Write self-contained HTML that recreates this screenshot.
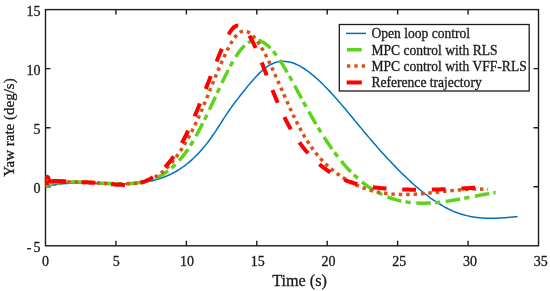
<!DOCTYPE html>
<html><head><meta charset="utf-8"><style>
html,body{margin:0;padding:0;background:#fff;width:550px;height:291px;overflow:hidden}
svg{display:block}
text{font-family:"Liberation Serif","Times New Roman",serif;fill:#1a1a1a;stroke:#1a1a1a;stroke-width:0.3px}
.t{font-size:14px}
.l{font-size:16.2px}
.g{font-size:13.55px}
</style></head><body>
<svg width="550" height="291" viewBox="0 0 550 291">
<rect width="550" height="291" fill="#fff"/>
<rect x="45.5" y="9.6" width="493.0" height="236.20000000000002" fill="none" stroke="#1a1a1a" stroke-width="1.4"/>
<path d="M115.93,245.8V240.8M115.93,9.6V14.6M186.36,245.8V240.8M186.36,9.6V14.6M256.79,245.8V240.8M256.79,9.6V14.6M327.21,245.8V240.8M327.21,9.6V14.6M397.64,245.8V240.8M397.64,9.6V14.6M468.07,245.8V240.8M468.07,9.6V14.6M45.5,186.75H50.5M538.5,186.75H533.5M45.5,127.70H50.5M538.5,127.70H533.5M45.5,68.65H50.5M538.5,68.65H533.5" stroke="#1a1a1a" stroke-width="1.4" fill="none"/>
<path d="M45.50,186.88 C45.83,186.79 46.83,186.53 47.50,186.37 C48.17,186.21 48.83,186.06 49.50,185.91 C50.17,185.76 50.83,185.62 51.50,185.49 C52.17,185.36 52.83,185.23 53.50,185.11 C54.17,184.99 54.83,184.88 55.50,184.77 C56.17,184.66 56.83,184.56 57.50,184.46 C58.17,184.36 58.83,184.28 59.50,184.19 C60.17,184.10 60.83,184.02 61.50,183.95 C62.17,183.88 62.83,183.80 63.50,183.74 C64.17,183.68 64.83,183.62 65.50,183.57 C66.17,183.52 66.83,183.47 67.50,183.42 C68.17,183.37 68.83,183.33 69.50,183.29 C70.17,183.25 70.83,183.22 71.50,183.19 C72.17,183.16 72.83,183.14 73.50,183.12 C74.17,183.10 74.83,183.07 75.50,183.06 C76.17,183.05 76.83,183.04 77.50,183.03 C78.17,183.02 78.83,183.01 79.50,183.01 C80.17,183.01 80.83,183.01 81.50,183.01 C82.17,183.01 82.83,183.02 83.50,183.03 C84.17,183.04 84.83,183.04 85.50,183.05 C86.17,183.06 86.83,183.08 87.50,183.10 C88.17,183.12 88.83,183.13 89.50,183.15 C90.17,183.17 90.83,183.18 91.50,183.20 C92.17,183.22 92.83,183.25 93.50,183.27 C94.17,183.29 94.83,183.31 95.50,183.34 C96.17,183.37 96.83,183.39 97.50,183.42 C98.17,183.44 98.83,183.47 99.50,183.49 C100.17,183.52 100.83,183.54 101.50,183.57 C102.17,183.60 102.83,183.62 103.50,183.65 C104.17,183.68 104.83,183.70 105.50,183.72 C106.17,183.74 106.83,183.77 107.50,183.79 C108.17,183.81 108.83,183.83 109.50,183.85 C110.17,183.87 110.83,183.89 111.50,183.91 C112.17,183.93 112.83,183.94 113.50,183.95 C114.17,183.96 114.83,183.98 115.50,183.99 C116.17,184.00 116.83,184.00 117.50,184.01 C118.17,184.01 118.83,184.02 119.50,184.02 C120.17,184.02 120.83,184.01 121.50,184.01 C122.17,184.00 122.83,184.00 123.50,183.99 C124.17,183.98 124.83,183.96 125.50,183.94 C126.17,183.92 126.83,183.91 127.50,183.88 C128.17,183.85 128.83,183.82 129.50,183.79 C130.17,183.76 130.83,183.72 131.50,183.68 C132.17,183.64 132.83,183.59 133.50,183.54 C134.17,183.49 134.83,183.44 135.50,183.38 C136.17,183.32 136.83,183.26 137.50,183.19 C138.17,183.12 138.83,183.05 139.50,182.97 C140.17,182.89 140.83,182.80 141.50,182.71 C142.17,182.62 142.83,182.52 143.50,182.42 C144.17,182.32 144.83,182.21 145.50,182.10 C146.17,181.99 146.83,181.87 147.50,181.74 C148.17,181.61 148.83,181.48 149.50,181.34 C150.17,181.20 150.83,181.05 151.50,180.90 C152.17,180.75 152.83,180.59 153.50,180.42 C154.17,180.25 154.83,180.07 155.50,179.89 C156.17,179.71 156.83,179.52 157.50,179.32 C158.17,179.12 158.83,178.91 159.50,178.70 C160.17,178.48 160.83,178.26 161.50,178.03 C162.17,177.80 162.83,177.56 163.50,177.31 C164.17,177.06 164.83,176.80 165.50,176.53 C166.17,176.26 166.83,175.97 167.50,175.68 C168.17,175.39 168.83,175.09 169.50,174.78 C170.17,174.47 170.83,174.15 171.50,173.82 C172.17,173.49 172.83,173.14 173.50,172.78 C174.17,172.42 174.83,172.06 175.50,171.68 C176.17,171.30 176.83,170.91 177.50,170.51 C178.17,170.11 178.83,169.69 179.50,169.26 C180.17,168.83 180.83,168.39 181.50,167.94 C182.17,167.49 182.83,167.01 183.50,166.53 C184.17,166.05 184.83,165.56 185.50,165.05 C186.17,164.54 186.83,164.02 187.50,163.48 C188.17,162.94 188.83,162.39 189.50,161.82 C190.17,161.25 190.83,160.68 191.50,160.08 C192.17,159.48 192.83,158.87 193.50,158.24 C194.17,157.61 194.83,156.97 195.50,156.31 C196.17,155.65 196.83,154.97 197.50,154.28 C198.17,153.59 198.83,152.88 199.50,152.16 C200.17,151.44 200.83,150.69 201.50,149.93 C202.17,149.17 202.83,148.39 203.50,147.59 C204.17,146.79 204.83,145.98 205.50,145.15 C206.17,144.32 206.83,143.47 207.50,142.60 C208.17,141.73 208.83,140.85 209.50,139.94 C210.17,139.03 210.83,138.10 211.50,137.16 C212.17,136.22 212.83,135.26 213.50,134.28 C214.17,133.30 214.83,132.31 215.50,131.30 C216.17,130.30 216.83,129.27 217.50,128.25 C218.17,127.23 218.83,126.19 219.50,125.16 C220.17,124.13 220.83,123.09 221.50,122.06 C222.17,121.03 222.83,119.99 223.50,118.96 C224.17,117.93 224.83,116.91 225.50,115.90 C226.17,114.89 226.83,113.89 227.50,112.90 C228.17,111.92 228.83,110.95 229.50,109.99 C230.17,109.03 230.83,108.09 231.50,107.16 C232.17,106.23 232.83,105.32 233.50,104.41 C234.17,103.50 234.83,102.61 235.50,101.72 C236.17,100.83 236.83,99.96 237.50,99.10 C238.17,98.23 238.83,97.38 239.50,96.53 C240.17,95.68 240.83,94.83 241.50,93.99 C242.17,93.15 242.83,92.32 243.50,91.49 C244.17,90.66 244.83,89.83 245.50,89.01 C246.17,88.19 246.83,87.37 247.50,86.56 C248.17,85.75 248.83,84.94 249.50,84.14 C250.17,83.34 250.83,82.56 251.50,81.78 C252.17,81.00 252.83,80.23 253.50,79.48 C254.17,78.73 254.83,77.99 255.50,77.27 C256.17,76.55 256.83,75.84 257.50,75.15 C258.17,74.46 258.83,73.78 259.50,73.13 C260.17,72.48 260.83,71.85 261.50,71.24 C262.17,70.63 262.83,70.05 263.50,69.49 C264.17,68.93 264.83,68.39 265.50,67.88 C266.17,67.37 266.83,66.89 267.50,66.44 C268.17,65.99 268.83,65.57 269.50,65.18 C270.17,64.79 270.83,64.43 271.50,64.10 C272.17,63.77 272.83,63.48 273.50,63.21 C274.17,62.94 274.83,62.71 275.50,62.50 C276.17,62.29 276.83,62.11 277.50,61.96 C278.17,61.81 278.83,61.68 279.50,61.58 C280.17,61.48 280.83,61.42 281.50,61.38 C282.17,61.34 282.83,61.31 283.50,61.32 C284.17,61.33 284.83,61.36 285.50,61.42 C286.17,61.48 286.83,61.56 287.50,61.67 C288.17,61.78 288.83,61.91 289.50,62.06 C290.17,62.21 290.83,62.38 291.50,62.58 C292.17,62.77 292.83,62.99 293.50,63.23 C294.17,63.47 294.83,63.73 295.50,64.01 C296.17,64.29 296.83,64.58 297.50,64.90 C298.17,65.22 298.83,65.55 299.50,65.91 C300.17,66.27 300.83,66.64 301.50,67.03 C302.17,67.42 302.83,67.83 303.50,68.25 C304.17,68.67 304.83,69.11 305.50,69.57 C306.17,70.02 306.83,70.50 307.50,70.98 C308.17,71.46 308.83,71.96 309.50,72.47 C310.17,72.98 310.83,73.51 311.50,74.05 C312.17,74.59 312.83,75.14 313.50,75.70 C314.17,76.26 314.83,76.85 315.50,77.43 C316.17,78.02 316.83,78.60 317.50,79.21 C318.17,79.82 318.83,80.44 319.50,81.07 C320.17,81.70 320.83,82.34 321.50,82.98 C322.17,83.62 322.83,84.28 323.50,84.94 C324.17,85.60 324.83,86.28 325.50,86.96 C326.17,87.64 326.83,88.33 327.50,89.03 C328.17,89.73 328.83,90.43 329.50,91.14 C330.17,91.85 330.83,92.57 331.50,93.30 C332.17,94.03 332.83,94.76 333.50,95.50 C334.17,96.24 334.83,96.98 335.50,97.73 C336.17,98.48 336.83,99.24 337.50,100.00 C338.17,100.76 338.83,101.52 339.50,102.29 C340.17,103.06 340.83,103.84 341.50,104.62 C342.17,105.40 342.83,106.19 343.50,106.97 C344.17,107.75 344.83,108.54 345.50,109.33 C346.17,110.12 346.83,110.92 347.50,111.72 C348.17,112.52 348.83,113.31 349.50,114.11 C350.17,114.91 350.83,115.72 351.50,116.52 C352.17,117.32 352.83,118.13 353.50,118.94 C354.17,119.75 354.83,120.55 355.50,121.36 C356.17,122.17 356.83,122.97 357.50,123.78 C358.17,124.59 358.83,125.39 359.50,126.20 C360.17,127.01 360.83,127.81 361.50,128.61 C362.17,129.41 362.83,130.21 363.50,131.01 C364.17,131.81 364.83,132.61 365.50,133.40 C366.17,134.19 366.83,134.99 367.50,135.78 C368.17,136.57 368.83,137.36 369.50,138.14 C370.17,138.92 370.83,139.70 371.50,140.48 C372.17,141.26 372.83,142.03 373.50,142.80 C374.17,143.57 374.83,144.34 375.50,145.10 C376.17,145.86 376.83,146.62 377.50,147.38 C378.17,148.14 378.83,148.89 379.50,149.64 C380.17,150.39 380.83,151.14 381.50,151.88 C382.17,152.62 382.83,153.36 383.50,154.09 C384.17,154.82 384.83,155.56 385.50,156.29 C386.17,157.02 386.83,157.74 387.50,158.46 C388.17,159.18 388.83,159.89 389.50,160.60 C390.17,161.31 390.83,162.02 391.50,162.72 C392.17,163.42 392.83,164.12 393.50,164.82 C394.17,165.51 394.83,166.20 395.50,166.89 C396.17,167.57 396.83,168.25 397.50,168.93 C398.17,169.61 398.83,170.28 399.50,170.94 C400.17,171.60 400.83,172.26 401.50,172.92 C402.17,173.58 402.83,174.23 403.50,174.88 C404.17,175.53 404.83,176.16 405.50,176.80 C406.17,177.44 406.83,178.07 407.50,178.70 C408.17,179.33 408.83,179.94 409.50,180.56 C410.17,181.18 410.83,181.78 411.50,182.39 C412.17,182.99 412.83,183.60 413.50,184.19 C414.17,184.78 414.83,185.37 415.50,185.95 C416.17,186.53 416.83,187.11 417.50,187.68 C418.17,188.25 418.83,188.81 419.50,189.37 C420.17,189.93 420.83,190.49 421.50,191.03 C422.17,191.57 422.83,192.11 423.50,192.64 C424.17,193.17 424.83,193.70 425.50,194.22 C426.17,194.74 426.83,195.25 427.50,195.75 C428.17,196.25 428.83,196.75 429.50,197.24 C430.17,197.73 430.83,198.22 431.50,198.69 C432.17,199.16 432.83,199.63 433.50,200.09 C434.17,200.55 434.83,201.00 435.50,201.44 C436.17,201.88 436.83,202.32 437.50,202.75 C438.17,203.18 438.83,203.59 439.50,204.00 C440.17,204.41 440.83,204.81 441.50,205.21 C442.17,205.61 442.83,205.99 443.50,206.37 C444.17,206.75 444.83,207.11 445.50,207.47 C446.17,207.83 446.83,208.17 447.50,208.51 C448.17,208.85 448.83,209.19 449.50,209.51 C450.17,209.83 450.83,210.14 451.50,210.44 C452.17,210.74 452.83,211.04 453.50,211.32 C454.17,211.60 454.83,211.88 455.50,212.14 C456.17,212.40 456.83,212.66 457.50,212.90 C458.17,213.14 458.83,213.38 459.50,213.60 C460.17,213.82 460.83,214.04 461.50,214.24 C462.17,214.44 462.83,214.63 463.50,214.82 C464.17,215.01 464.83,215.19 465.50,215.36 C466.17,215.53 466.83,215.69 467.50,215.84 C468.17,215.99 468.83,216.14 469.50,216.27 C470.17,216.41 470.83,216.53 471.50,216.65 C472.17,216.77 472.83,216.89 473.50,216.99 C474.17,217.09 474.83,217.19 475.50,217.28 C476.17,217.37 476.83,217.45 477.50,217.53 C478.17,217.61 478.83,217.68 479.50,217.74 C480.17,217.80 480.83,217.86 481.50,217.91 C482.17,217.96 482.83,218.01 483.50,218.05 C484.17,218.09 484.83,218.12 485.50,218.15 C486.17,218.18 486.83,218.20 487.50,218.22 C488.17,218.24 488.83,218.24 489.50,218.25 C490.17,218.26 490.83,218.26 491.50,218.26 C492.17,218.26 492.83,218.25 493.50,218.24 C494.17,218.23 494.83,218.21 495.50,218.19 C496.17,218.17 496.83,218.16 497.50,218.13 C498.17,218.10 498.83,218.06 499.50,218.03 C500.17,218.00 500.83,217.96 501.50,217.92 C502.17,217.88 502.83,217.84 503.50,217.80 C504.17,217.76 504.83,217.70 505.50,217.65 C506.17,217.60 506.83,217.55 507.50,217.49 C508.17,217.44 508.83,217.38 509.50,217.32 C510.17,217.26 510.83,217.20 511.50,217.14 C512.17,217.08 512.83,217.02 513.50,216.96 C514.17,216.90 514.83,216.83 515.50,216.76 C516.17,216.69 517.15,216.59 517.50,216.56 C517.85,216.53 517.58,216.55 517.60,216.55" fill="none" stroke="#0072bd" stroke-width="1.5" stroke-linejoin="round"/>
<path d="M45.50,185.72 C45.83,185.63 46.83,185.36 47.50,185.19 C48.17,185.02 48.83,184.85 49.50,184.70 C50.17,184.54 50.83,184.40 51.50,184.26 C52.17,184.12 52.83,183.99 53.50,183.87 C54.17,183.75 54.83,183.63 55.50,183.52 C56.17,183.41 56.83,183.31 57.50,183.21 C58.17,183.12 58.83,183.03 59.50,182.95 C60.17,182.87 60.83,182.79 61.50,182.72 C62.17,182.65 62.83,182.59 63.50,182.53 C64.17,182.47 64.83,182.42 65.50,182.37 C66.17,182.32 66.83,182.28 67.50,182.24 C68.17,182.20 68.83,182.18 69.50,182.15 C70.17,182.12 70.83,182.10 71.50,182.08 C72.17,182.06 72.83,182.05 73.50,182.04 C74.17,182.03 74.83,182.03 75.50,182.03 C76.17,182.03 76.83,182.03 77.50,182.03 C78.17,182.03 78.83,182.05 79.50,182.06 C80.17,182.07 80.83,182.09 81.50,182.11 C82.17,182.13 82.83,182.15 83.50,182.17 C84.17,182.19 84.83,182.21 85.50,182.24 C86.17,182.27 86.83,182.30 87.50,182.33 C88.17,182.36 88.83,182.40 89.50,182.43 C90.17,182.47 90.83,182.50 91.50,182.54 C92.17,182.58 92.83,182.61 93.50,182.65 C94.17,182.69 94.83,182.73 95.50,182.77 C96.17,182.81 96.83,182.85 97.50,182.89 C98.17,182.93 98.83,182.98 99.50,183.02 C100.17,183.06 100.83,183.10 101.50,183.14 C102.17,183.18 102.83,183.21 103.50,183.25 C104.17,183.29 104.83,183.32 105.50,183.36 C106.17,183.40 106.83,183.44 107.50,183.47 C108.17,183.50 108.83,183.54 109.50,183.57 C110.17,183.60 110.83,183.62 111.50,183.65 C112.17,183.68 112.83,183.70 113.50,183.72 C114.17,183.74 114.83,183.76 115.50,183.78 C116.17,183.80 116.83,183.80 117.50,183.81 C118.17,183.82 118.83,183.83 119.50,183.83 C120.17,183.83 120.83,183.83 121.50,183.83 C122.17,183.83 122.83,183.82 123.50,183.81 C124.17,183.80 124.83,183.78 125.50,183.76 C126.17,183.74 126.83,183.71 127.50,183.68 C128.17,183.65 128.83,183.61 129.50,183.57 C130.17,183.53 130.83,183.49 131.50,183.44 C132.17,183.39 132.83,183.33 133.50,183.27 C134.17,183.21 134.83,183.13 135.50,183.06 C136.17,182.99 136.83,182.91 137.50,182.82 C138.17,182.73 138.83,182.63 139.50,182.53 C140.17,182.43 140.83,182.32 141.50,182.20 C142.17,182.08 142.83,181.96 143.50,181.82 C144.17,181.68 144.83,181.53 145.50,181.37 C146.17,181.21 146.83,181.05 147.50,180.87 C148.17,180.69 148.83,180.49 149.50,180.29 C150.17,180.09 150.83,179.88 151.50,179.65 C152.17,179.42 152.83,179.17 153.50,178.92 C154.17,178.66 154.83,178.40 155.50,178.12 C156.17,177.84 156.83,177.53 157.50,177.22 C158.17,176.91 158.83,176.59 159.50,176.24 C160.17,175.90 160.83,175.53 161.50,175.15 C162.17,174.77 162.83,174.37 163.50,173.96 C164.17,173.55 164.83,173.12 165.50,172.67 C166.17,172.22 166.83,171.75 167.50,171.26 C168.17,170.77 168.83,170.27 169.50,169.74 C170.17,169.21 170.83,168.66 171.50,168.09 C172.17,167.52 172.83,166.93 173.50,166.32 C174.17,165.71 174.83,165.08 175.50,164.42 C176.17,163.76 176.83,163.07 177.50,162.37 C178.17,161.67 178.83,160.94 179.50,160.19 C180.17,159.44 180.83,158.65 181.50,157.85 C182.17,157.05 182.83,156.22 183.50,155.37 C184.17,154.52 184.83,153.64 185.50,152.73 C186.17,151.82 186.83,150.88 187.50,149.92 C188.17,148.96 188.83,147.97 189.50,146.95 C190.17,145.93 190.83,144.88 191.50,143.80 C192.17,142.72 192.83,141.62 193.50,140.49 C194.17,139.36 194.83,138.19 195.50,137.01 C196.17,135.83 196.83,134.63 197.50,133.40 C198.17,132.17 198.83,130.92 199.50,129.65 C200.17,128.38 200.83,127.09 201.50,125.78 C202.17,124.47 202.83,123.15 203.50,121.81 C204.17,120.47 204.83,119.11 205.50,117.75 C206.17,116.39 206.83,115.01 207.50,113.62 C208.17,112.23 208.83,110.84 209.50,109.43 C210.17,108.03 210.83,106.61 211.50,105.19 C212.17,103.77 212.83,102.34 213.50,100.91 C214.17,99.48 214.83,98.05 215.50,96.62 C216.17,95.19 216.83,93.75 217.50,92.32 C218.17,90.89 218.83,89.45 219.50,88.03 C220.17,86.61 220.83,85.19 221.50,83.78 C222.17,82.37 222.83,80.97 223.50,79.58 C224.17,78.19 224.83,76.82 225.50,75.47 C226.17,74.12 226.83,72.78 227.50,71.47 C228.17,70.16 228.83,68.88 229.50,67.62 C230.17,66.36 230.83,65.12 231.50,63.93 C232.17,62.73 232.83,61.57 233.50,60.45 C234.17,59.33 234.83,58.24 235.50,57.19 C236.17,56.14 236.83,55.13 237.50,54.17 C238.17,53.21 238.83,52.29 239.50,51.42 C240.17,50.55 240.83,49.72 241.50,48.94 C242.17,48.16 242.83,47.42 243.50,46.74 C244.17,46.06 244.83,45.42 245.50,44.84 C246.17,44.26 246.83,43.73 247.50,43.26 C248.17,42.78 248.83,42.36 249.50,41.99 C250.17,41.62 250.83,41.32 251.50,41.07 C252.17,40.82 252.83,40.62 253.50,40.48 C254.17,40.34 254.83,40.27 255.50,40.25 C256.17,40.23 256.83,40.26 257.50,40.34 C258.17,40.43 258.83,40.57 259.50,40.76 C260.17,40.95 260.83,41.20 261.50,41.49 C262.17,41.78 262.83,42.12 263.50,42.51 C264.17,42.90 264.83,43.34 265.50,43.83 C266.17,44.31 266.83,44.85 267.50,45.42 C268.17,45.99 268.83,46.61 269.50,47.27 C270.17,47.93 270.83,48.63 271.50,49.37 C272.17,50.11 272.83,50.88 273.50,51.69 C274.17,52.50 274.83,53.34 275.50,54.22 C276.17,55.10 276.83,56.01 277.50,56.95 C278.17,57.89 278.83,58.86 279.50,59.85 C280.17,60.84 280.83,61.86 281.50,62.90 C282.17,63.94 282.83,65.01 283.50,66.10 C284.17,67.19 284.83,68.30 285.50,69.42 C286.17,70.55 286.83,71.69 287.50,72.85 C288.17,74.01 288.83,75.19 289.50,76.37 C290.17,77.56 290.83,78.75 291.50,79.96 C292.17,81.16 292.83,82.38 293.50,83.60 C294.17,84.82 294.83,86.06 295.50,87.29 C296.17,88.52 296.83,89.75 297.50,90.99 C298.17,92.22 298.83,93.47 299.50,94.70 C300.17,95.94 300.83,97.17 301.50,98.40 C302.17,99.63 302.83,100.85 303.50,102.07 C304.17,103.29 304.83,104.50 305.50,105.70 C306.17,106.91 306.83,108.11 307.50,109.30 C308.17,110.49 308.83,111.67 309.50,112.85 C310.17,114.03 310.83,115.20 311.50,116.36 C312.17,117.52 312.83,118.68 313.50,119.82 C314.17,120.96 314.83,122.09 315.50,123.22 C316.17,124.35 316.83,125.47 317.50,126.58 C318.17,127.69 318.83,128.78 319.50,129.87 C320.17,130.96 320.83,132.04 321.50,133.11 C322.17,134.18 322.83,135.24 323.50,136.28 C324.17,137.32 324.83,138.36 325.50,139.38 C326.17,140.40 326.83,141.42 327.50,142.42 C328.17,143.42 328.83,144.41 329.50,145.38 C330.17,146.35 330.83,147.31 331.50,148.26 C332.17,149.21 332.83,150.15 333.50,151.07 C334.17,151.99 334.83,152.90 335.50,153.79 C336.17,154.68 336.83,155.56 337.50,156.43 C338.17,157.30 338.83,158.14 339.50,158.98 C340.17,159.81 340.83,160.63 341.50,161.44 C342.17,162.25 342.83,163.04 343.50,163.82 C344.17,164.60 344.83,165.36 345.50,166.11 C346.17,166.86 346.83,167.59 347.50,168.31 C348.17,169.03 348.83,169.75 349.50,170.44 C350.17,171.13 350.83,171.81 351.50,172.48 C352.17,173.15 352.83,173.80 353.50,174.44 C354.17,175.08 354.83,175.72 355.50,176.33 C356.17,176.95 356.83,177.54 357.50,178.13 C358.17,178.72 358.83,179.31 359.50,179.87 C360.17,180.44 360.83,180.98 361.50,181.52 C362.17,182.06 362.83,182.59 363.50,183.11 C364.17,183.63 364.83,184.13 365.50,184.62 C366.17,185.11 366.83,185.59 367.50,186.06 C368.17,186.53 368.83,186.99 369.50,187.43 C370.17,187.88 370.83,188.31 371.50,188.73 C372.17,189.15 372.83,189.57 373.50,189.97 C374.17,190.37 374.83,190.77 375.50,191.15 C376.17,191.53 376.83,191.89 377.50,192.25 C378.17,192.61 378.83,192.96 379.50,193.30 C380.17,193.64 380.83,193.96 381.50,194.28 C382.17,194.60 382.83,194.91 383.50,195.21 C384.17,195.51 384.83,195.80 385.50,196.08 C386.17,196.36 386.83,196.63 387.50,196.89 C388.17,197.15 388.83,197.40 389.50,197.64 C390.17,197.88 390.83,198.12 391.50,198.34 C392.17,198.56 392.83,198.77 393.50,198.98 C394.17,199.19 394.83,199.39 395.50,199.58 C396.17,199.77 396.83,199.95 397.50,200.12 C398.17,200.29 398.83,200.46 399.50,200.62 C400.17,200.78 400.83,200.92 401.50,201.06 C402.17,201.20 402.83,201.33 403.50,201.46 C404.17,201.59 404.83,201.71 405.50,201.82 C406.17,201.93 406.83,202.03 407.50,202.13 C408.17,202.23 408.83,202.32 409.50,202.40 C410.17,202.48 410.83,202.55 411.50,202.62 C412.17,202.69 412.83,202.75 413.50,202.81 C414.17,202.87 414.83,202.92 415.50,202.96 C416.17,203.00 416.83,203.04 417.50,203.07 C418.17,203.10 418.83,203.13 419.50,203.15 C420.17,203.17 420.83,203.18 421.50,203.19 C422.17,203.20 422.83,203.19 423.50,203.19 C424.17,203.19 424.83,203.18 425.50,203.17 C426.17,203.16 426.83,203.14 427.50,203.12 C428.17,203.10 428.83,203.06 429.50,203.03 C430.17,203.00 430.83,202.96 431.50,202.92 C432.17,202.88 432.83,202.83 433.50,202.78 C434.17,202.73 434.83,202.68 435.50,202.62 C436.17,202.56 436.83,202.50 437.50,202.43 C438.17,202.36 438.83,202.29 439.50,202.22 C440.17,202.15 440.83,202.07 441.50,201.99 C442.17,201.91 442.83,201.83 443.50,201.74 C444.17,201.65 444.83,201.56 445.50,201.47 C446.17,201.38 446.83,201.28 447.50,201.18 C448.17,201.08 448.83,200.98 449.50,200.88 C450.17,200.78 450.83,200.67 451.50,200.56 C452.17,200.45 452.83,200.34 453.50,200.23 C454.17,200.12 454.83,200.00 455.50,199.89 C456.17,199.77 456.83,199.66 457.50,199.54 C458.17,199.42 458.83,199.29 459.50,199.17 C460.17,199.05 460.83,198.92 461.50,198.80 C462.17,198.68 462.83,198.56 463.50,198.43 C464.17,198.30 464.83,198.17 465.50,198.04 C466.17,197.91 466.83,197.79 467.50,197.66 C468.17,197.53 468.83,197.40 469.50,197.27 C470.17,197.14 470.83,197.01 471.50,196.88 C472.17,196.75 472.83,196.62 473.50,196.49 C474.17,196.36 474.83,196.23 475.50,196.10 C476.17,195.97 476.83,195.85 477.50,195.72 C478.17,195.59 478.83,195.46 479.50,195.33 C480.17,195.20 480.83,195.08 481.50,194.96 C482.17,194.84 482.83,194.71 483.50,194.59 C484.17,194.47 484.83,194.35 485.50,194.23 C486.17,194.11 486.83,194.00 487.50,193.88 C488.17,193.76 488.83,193.64 489.50,193.53 C490.17,193.42 490.83,193.31 491.50,193.20 C492.17,193.09 492.83,192.99 493.50,192.89 C494.17,192.79 495.15,192.64 495.50,192.59 C495.85,192.54 495.58,192.57 495.60,192.57" fill="none" stroke="#5fd21c" stroke-width="3.5" stroke-dasharray="14.5 4.2 5.4 5.5" stroke-dashoffset="7.21"/>
<path d="M47.00,185.00 C47.03,184.08 47.03,180.17 47.20,179.50 C47.37,178.83 47.53,180.54 48.00,181.00 C48.47,181.46 49.33,182.09 50.00,182.28 C50.67,182.47 51.33,182.20 52.00,182.17 C52.67,182.14 53.33,182.11 54.00,182.08 C54.67,182.05 55.33,182.03 56.00,182.01 C56.67,181.99 57.33,181.98 58.00,181.96 C58.67,181.94 59.33,181.93 60.00,181.92 C60.67,181.91 61.33,181.91 62.00,181.90 C62.67,181.90 63.33,181.89 64.00,181.89 C64.67,181.89 65.33,181.90 66.00,181.90 C66.67,181.91 67.33,181.91 68.00,181.92 C68.67,181.93 69.33,181.94 70.00,181.95 C70.67,181.96 71.33,181.97 72.00,181.99 C72.67,182.01 73.33,182.03 74.00,182.05 C74.67,182.07 75.33,182.09 76.00,182.11 C76.67,182.13 77.33,182.16 78.00,182.18 C78.67,182.20 79.33,182.22 80.00,182.25 C80.67,182.28 81.33,182.31 82.00,182.34 C82.67,182.37 83.33,182.39 84.00,182.42 C84.67,182.45 85.33,182.49 86.00,182.52 C86.67,182.55 87.33,182.58 88.00,182.61 C88.67,182.64 89.33,182.68 90.00,182.71 C90.67,182.74 91.33,182.78 92.00,182.81 C92.67,182.84 93.33,182.88 94.00,182.91 C94.67,182.94 95.33,182.98 96.00,183.01 C96.67,183.04 97.33,183.07 98.00,183.10 C98.67,183.13 99.33,183.17 100.00,183.20 C100.67,183.23 101.33,183.26 102.00,183.29 C102.67,183.32 103.33,183.35 104.00,183.38 C104.67,183.41 105.33,183.44 106.00,183.46 C106.67,183.49 107.33,183.51 108.00,183.53 C108.67,183.55 109.33,183.58 110.00,183.60 C110.67,183.62 111.33,183.64 112.00,183.66 C112.67,183.68 113.33,183.69 114.00,183.71 C114.67,183.73 115.33,183.74 116.00,183.75 C116.67,183.76 117.33,183.77 118.00,183.78 C118.67,183.79 119.33,183.80 120.00,183.80 C120.67,183.80 121.33,183.80 122.00,183.80 C122.67,183.80 123.33,183.79 124.00,183.79 C124.67,183.78 125.33,183.78 126.00,183.77 C126.67,183.76 127.33,183.74 128.00,183.72 C128.67,183.70 129.33,183.68 130.00,183.65 C130.67,183.62 131.33,183.58 132.00,183.54 C132.67,183.50 133.33,183.45 134.00,183.39 C134.67,183.33 135.33,183.27 136.00,183.19 C136.67,183.11 137.33,183.03 138.00,182.93 C138.67,182.83 139.33,182.72 140.00,182.60 C140.67,182.48 141.33,182.35 142.00,182.20 C142.67,182.05 143.33,181.89 144.00,181.71 C144.67,181.53 145.33,181.35 146.00,181.14 C146.67,180.93 147.33,180.70 148.00,180.46 C148.67,180.22 149.33,179.96 150.00,179.68 C150.67,179.40 151.33,179.10 152.00,178.78 C152.67,178.46 153.33,178.12 154.00,177.76 C154.67,177.40 155.33,177.02 156.00,176.61 C156.67,176.20 157.33,175.77 158.00,175.32 C158.67,174.87 159.33,174.39 160.00,173.89 C160.67,173.39 161.33,172.86 162.00,172.31 C162.67,171.76 163.33,171.19 164.00,170.60 C164.67,170.00 165.33,169.39 166.00,168.74 C166.67,168.09 167.33,167.42 168.00,166.73 C168.67,166.04 169.33,165.32 170.00,164.58 C170.67,163.84 171.33,163.07 172.00,162.28 C172.67,161.49 173.33,160.67 174.00,159.83 C174.67,158.99 175.33,158.12 176.00,157.23 C176.67,156.34 177.33,155.42 178.00,154.48 C178.67,153.54 179.33,152.57 180.00,151.58 C180.67,150.59 181.33,149.57 182.00,148.53 C182.67,147.49 183.33,146.42 184.00,145.33 C184.67,144.24 185.33,143.12 186.00,141.97 C186.67,140.82 187.33,139.65 188.00,138.45 C188.67,137.25 189.33,136.03 190.00,134.78 C190.67,133.53 191.33,132.25 192.00,130.95 C192.67,129.65 193.33,128.32 194.00,126.96 C194.67,125.60 195.33,124.22 196.00,122.81 C196.67,121.40 197.33,119.96 198.00,118.50 C198.67,117.04 199.33,115.54 200.00,114.03 C200.67,112.52 201.33,110.98 202.00,109.42 C202.67,107.86 203.33,106.28 204.00,104.69 C204.67,103.10 205.33,101.49 206.00,99.87 C206.67,98.25 207.33,96.62 208.00,94.99 C208.67,93.36 209.33,91.72 210.00,90.08 C210.67,88.44 211.33,86.79 212.00,85.15 C212.67,83.51 213.33,81.88 214.00,80.25 C214.67,78.62 215.33,77.00 216.00,75.39 C216.67,73.78 217.33,72.18 218.00,70.60 C218.67,69.02 219.33,67.45 220.00,65.91 C220.67,64.37 221.33,62.84 222.00,61.35 C222.67,59.86 223.33,58.38 224.00,56.94 C224.67,55.50 225.33,54.08 226.00,52.71 C226.67,51.34 227.33,50.00 228.00,48.71 C228.67,47.42 229.33,46.17 230.00,44.98 C230.67,43.79 231.33,42.66 232.00,41.59 C232.67,40.52 233.33,39.51 234.00,38.58 C234.67,37.65 235.33,36.78 236.00,36.00 C236.67,35.22 237.33,34.53 238.00,33.92 C238.67,33.31 239.33,32.79 240.00,32.37 C240.67,31.95 241.33,31.64 242.00,31.42 C242.67,31.20 243.33,31.09 244.00,31.07 C244.67,31.05 245.33,31.13 246.00,31.29 C246.67,31.45 247.33,31.70 248.00,32.03 C248.67,32.36 249.33,32.77 250.00,33.26 C250.67,33.74 251.33,34.31 252.00,34.94 C252.67,35.56 253.33,36.26 254.00,37.01 C254.67,37.76 255.33,38.59 256.00,39.45 C256.67,40.32 257.33,41.23 258.00,42.20 C258.67,43.17 259.33,44.19 260.00,45.24 C260.67,46.29 261.33,47.39 262.00,48.52 C262.67,49.65 263.33,50.83 264.00,52.04 C264.67,53.25 265.33,54.49 266.00,55.76 C266.67,57.03 267.33,58.34 268.00,59.67 C268.67,61.00 269.33,62.36 270.00,63.74 C270.67,65.12 271.33,66.52 272.00,67.94 C272.67,69.36 273.33,70.81 274.00,72.26 C274.67,73.72 275.33,75.19 276.00,76.67 C276.67,78.15 277.33,79.65 278.00,81.15 C278.67,82.65 279.33,84.17 280.00,85.68 C280.67,87.19 281.33,88.70 282.00,90.22 C282.67,91.73 283.33,93.26 284.00,94.77 C284.67,96.28 285.33,97.79 286.00,99.29 C286.67,100.79 287.33,102.29 288.00,103.77 C288.67,105.25 289.33,106.73 290.00,108.18 C290.67,109.64 291.33,111.08 292.00,112.50 C292.67,113.92 293.33,115.32 294.00,116.70 C294.67,118.08 295.33,119.43 296.00,120.76 C296.67,122.09 297.33,123.40 298.00,124.68 C298.67,125.96 299.33,127.22 300.00,128.45 C300.67,129.68 301.33,130.90 302.00,132.08 C302.67,133.26 303.33,134.42 304.00,135.55 C304.67,136.68 305.33,137.79 306.00,138.88 C306.67,139.97 307.33,141.03 308.00,142.06 C308.67,143.09 309.33,144.10 310.00,145.08 C310.67,146.06 311.33,147.02 312.00,147.95 C312.67,148.88 313.33,149.78 314.00,150.66 C314.67,151.54 315.33,152.39 316.00,153.23 C316.67,154.06 317.33,154.88 318.00,155.67 C318.67,156.46 319.33,157.22 320.00,157.97 C320.67,158.72 321.33,159.44 322.00,160.15 C322.67,160.86 323.33,161.55 324.00,162.22 C324.67,162.89 325.33,163.54 326.00,164.18 C326.67,164.82 327.33,165.44 328.00,166.05 C328.67,166.66 329.33,167.25 330.00,167.83 C330.67,168.41 331.33,168.98 332.00,169.54 C332.67,170.10 333.33,170.64 334.00,171.17 C334.67,171.70 335.33,172.22 336.00,172.73 C336.67,173.24 337.33,173.74 338.00,174.23 C338.67,174.72 339.33,175.19 340.00,175.66 C340.67,176.13 341.33,176.59 342.00,177.03 C342.67,177.47 343.33,177.91 344.00,178.33 C344.67,178.76 345.33,179.18 346.00,179.58 C346.67,179.99 347.33,180.38 348.00,180.76 C348.67,181.14 349.33,181.51 350.00,181.88 C350.67,182.25 351.33,182.60 352.00,182.95 C352.67,183.30 353.33,183.63 354.00,183.96 C354.67,184.29 355.33,184.60 356.00,184.91 C356.67,185.22 357.33,185.52 358.00,185.81 C358.67,186.10 359.33,186.39 360.00,186.66 C360.67,186.93 361.33,187.19 362.00,187.45 C362.67,187.71 363.33,187.96 364.00,188.20 C364.67,188.44 365.33,188.67 366.00,188.89 C366.67,189.11 367.33,189.33 368.00,189.54 C368.67,189.75 369.33,189.96 370.00,190.15 C370.67,190.34 371.33,190.52 372.00,190.70 C372.67,190.88 373.33,191.06 374.00,191.22 C374.67,191.38 375.33,191.54 376.00,191.69 C376.67,191.84 377.33,191.98 378.00,192.12 C378.67,192.26 379.33,192.39 380.00,192.51 C380.67,192.63 381.33,192.75 382.00,192.86 C382.67,192.97 383.33,193.07 384.00,193.17 C384.67,193.27 385.33,193.36 386.00,193.45 C386.67,193.54 387.33,193.62 388.00,193.69 C388.67,193.76 389.33,193.84 390.00,193.90 C390.67,193.96 391.33,194.02 392.00,194.07 C392.67,194.12 393.33,194.18 394.00,194.22 C394.67,194.26 395.33,194.31 396.00,194.34 C396.67,194.37 397.33,194.40 398.00,194.42 C398.67,194.44 399.33,194.46 400.00,194.48 C400.67,194.50 401.33,194.50 402.00,194.51 C402.67,194.52 403.33,194.52 404.00,194.52 C404.67,194.52 405.33,194.52 406.00,194.51 C406.67,194.50 407.33,194.49 408.00,194.47 C408.67,194.45 409.33,194.43 410.00,194.41 C410.67,194.39 411.33,194.37 412.00,194.34 C412.67,194.31 413.33,194.28 414.00,194.24 C414.67,194.21 415.33,194.17 416.00,194.13 C416.67,194.09 417.33,194.05 418.00,194.00 C418.67,193.95 419.33,193.90 420.00,193.85 C420.67,193.80 421.33,193.75 422.00,193.70 C422.67,193.65 423.33,193.59 424.00,193.53 C424.67,193.47 425.33,193.41 426.00,193.35 C426.67,193.29 427.33,193.22 428.00,193.16 C428.67,193.09 429.33,193.03 430.00,192.96 C430.67,192.89 431.33,192.83 432.00,192.76 C432.67,192.69 433.33,192.62 434.00,192.55 C434.67,192.48 435.33,192.40 436.00,192.33 C436.67,192.26 437.33,192.19 438.00,192.12 C438.67,192.05 439.33,191.97 440.00,191.90 C440.67,191.83 441.33,191.75 442.00,191.68 C442.67,191.61 443.33,191.53 444.00,191.46 C444.67,191.39 445.33,191.31 446.00,191.24 C446.67,191.17 447.33,191.10 448.00,191.03 C448.67,190.96 449.33,190.89 450.00,190.82 C450.67,190.75 451.33,190.69 452.00,190.62 C452.67,190.55 453.33,190.48 454.00,190.42 C454.67,190.35 455.33,190.29 456.00,190.23 C456.67,190.17 457.33,190.11 458.00,190.05 C458.67,189.99 459.33,189.94 460.00,189.89 C460.67,189.84 461.33,189.78 462.00,189.73 C462.67,189.68 463.33,189.63 464.00,189.59 C464.67,189.55 465.33,189.50 466.00,189.46 C466.67,189.42 467.33,189.38 468.00,189.35 C468.67,189.32 469.33,189.29 470.00,189.26 C470.67,189.23 471.33,189.20 472.00,189.18 C472.67,189.16 473.33,189.13 474.00,189.12 C474.67,189.11 475.33,189.10 476.00,189.09 C476.67,189.08 477.33,189.08 478.00,189.08 C478.67,189.08 479.33,189.08 480.00,189.09 C480.67,189.10 481.33,189.11 482.00,189.13 C482.67,189.15 483.33,189.16 484.00,189.19 C484.67,189.22 485.33,189.25 486.00,189.28 C486.67,189.31 487.65,189.38 488.00,189.40 C488.35,189.42 488.08,189.40 488.10,189.40" fill="none" stroke="#d95319" stroke-width="3.5" stroke-dasharray="3.5 3.9" stroke-dashoffset="2.92"/>
<path d="M46.90,185.30 C46.90,184.02 46.68,178.90 46.90,177.60 C47.12,176.30 47.85,177.02 48.20,177.50 C48.55,177.98 48.53,179.94 49.00,180.50 C49.47,181.06 50.33,180.75 51.00,180.83 C51.67,180.91 52.33,180.93 53.00,180.98 C53.67,181.03 54.33,181.07 55.00,181.12 C55.67,181.17 56.33,181.21 57.00,181.25 C57.67,181.29 58.33,181.33 59.00,181.36 C59.67,181.40 60.33,181.43 61.00,181.46 C61.67,181.49 62.33,181.52 63.00,181.55 C63.67,181.58 64.33,181.60 65.00,181.63 C65.67,181.66 66.33,181.68 67.00,181.70 C67.67,181.72 68.33,181.75 69.00,181.77 C69.67,181.79 70.33,181.81 71.00,181.83 C71.67,181.85 72.33,181.87 73.00,181.89 C73.67,181.91 74.33,181.93 75.00,181.95 C75.67,181.97 76.33,181.98 77.00,182.00 C77.67,182.02 78.33,182.04 79.00,182.06 C79.67,182.08 80.33,182.10 81.00,182.12 C81.67,182.14 82.33,182.17 83.00,182.19 C83.67,182.21 84.33,182.23 85.00,182.26 C85.67,182.28 86.33,182.31 87.00,182.34 C87.67,182.37 88.33,182.39 89.00,182.42 C89.67,182.45 90.33,182.49 91.00,182.52 C91.67,182.56 92.33,182.59 93.00,182.63 C93.67,182.67 94.33,182.71 95.00,182.75 C95.67,182.79 96.33,182.83 97.00,182.88 C97.67,182.93 98.33,182.98 99.00,183.03 C99.67,183.08 100.33,183.14 101.00,183.20 C101.67,183.26 102.33,183.33 103.00,183.39 C103.67,183.45 104.33,183.52 105.00,183.58 C105.67,183.65 106.33,183.71 107.00,183.78 C107.67,183.85 108.33,183.91 109.00,183.98 C109.67,184.04 110.33,184.11 111.00,184.17 C111.67,184.23 112.33,184.29 113.00,184.35 C113.67,184.41 114.33,184.47 115.00,184.52 C115.67,184.57 116.33,184.62 117.00,184.66 C117.67,184.70 118.33,184.75 119.00,184.78 C119.67,184.81 120.33,184.84 121.00,184.86 C121.67,184.88 122.33,184.89 123.00,184.90 C123.67,184.91 124.33,184.91 125.00,184.90 C125.67,184.89 126.33,184.88 127.00,184.85 C127.67,184.82 128.33,184.78 129.00,184.74 C129.67,184.70 130.33,184.65 131.00,184.58 C131.67,184.52 132.33,184.44 133.00,184.35 C133.67,184.26 134.33,184.16 135.00,184.05 C135.67,183.94 136.33,183.81 137.00,183.67 C137.67,183.53 138.33,183.38 139.00,183.21 C139.67,183.04 140.33,182.86 141.00,182.66 C141.67,182.46 142.33,182.25 143.00,182.02 C143.67,181.79 144.33,181.54 145.00,181.28 C145.67,181.02 146.33,180.74 147.00,180.44 C147.67,180.14 148.33,179.83 149.00,179.49 C149.67,179.15 150.33,178.79 151.00,178.42 C151.67,178.04 152.33,177.66 153.00,177.24 C153.67,176.82 154.33,176.38 155.00,175.92 C155.67,175.46 156.33,174.97 157.00,174.47 C157.67,173.97 158.33,173.44 159.00,172.89 C159.67,172.34 160.33,171.75 161.00,171.15 C161.67,170.55 162.33,169.93 163.00,169.27 C163.67,168.62 164.33,167.93 165.00,167.22 C165.67,166.51 166.33,165.78 167.00,165.02 C167.67,164.26 168.33,163.46 169.00,162.64 C169.67,161.82 170.33,160.97 171.00,160.09 C171.67,159.21 172.33,158.29 173.00,157.35 C173.67,156.41 174.33,155.44 175.00,154.43 C175.67,153.42 176.33,152.38 177.00,151.31 C177.67,150.24 178.33,149.14 179.00,148.01 C179.67,146.88 180.33,145.71 181.00,144.52 C181.67,143.33 182.33,142.11 183.00,140.86 C183.67,139.61 184.33,138.33 185.00,137.02 C185.67,135.71 186.33,134.37 187.00,133.01 C187.67,131.65 188.33,130.26 189.00,128.84 C189.67,127.42 190.33,125.98 191.00,124.51 C191.67,123.04 192.33,121.55 193.00,120.03 C193.67,118.51 194.33,116.97 195.00,115.41 C195.67,113.85 196.33,112.27 197.00,110.67 C197.67,109.07 198.33,107.46 199.00,105.83 C199.67,104.20 200.33,102.56 201.00,100.90 C201.67,99.25 202.33,97.58 203.00,95.90 C203.67,94.23 204.33,92.54 205.00,90.85 C205.67,89.16 206.33,87.47 207.00,85.77 C207.67,84.07 208.33,82.37 209.00,80.67 C209.67,78.97 210.33,77.27 211.00,75.57 C211.67,73.87 212.33,72.17 213.00,70.48 C213.67,68.79 214.33,67.11 215.00,65.43 C215.67,63.76 216.33,62.09 217.00,60.43 C217.67,58.77 218.33,57.13 219.00,55.50 C219.67,53.87 220.33,52.25 221.00,50.66 C221.67,49.07 222.33,47.49 223.00,45.96 C223.67,44.43 224.33,42.93 225.00,41.50 C225.67,40.07 226.33,38.69 227.00,37.39 C227.67,36.09 228.33,34.86 229.00,33.73 C229.67,32.60 230.33,31.55 231.00,30.62 C231.67,29.69 232.33,28.86 233.00,28.17 C233.67,27.48 234.33,26.90 235.00,26.47 C235.67,26.04 236.33,25.76 237.00,25.60 C237.67,25.44 238.33,25.42 239.00,25.51 C239.67,25.60 240.33,25.83 241.00,26.16 C241.67,26.49 242.33,26.94 243.00,27.48 C243.67,28.02 244.33,28.69 245.00,29.43 C245.67,30.17 246.33,31.02 247.00,31.94 C247.67,32.86 248.33,33.88 249.00,34.96 C249.67,36.04 250.33,37.21 251.00,38.44 C251.67,39.66 252.33,40.96 253.00,42.31 C253.67,43.66 254.33,45.08 255.00,46.53 C255.67,47.98 256.33,49.50 257.00,51.04 C257.67,52.58 258.33,54.18 259.00,55.79 C259.67,57.40 260.33,59.05 261.00,60.72 C261.67,62.38 262.33,64.08 263.00,65.78 C263.67,67.48 264.33,69.20 265.00,70.92 C265.67,72.64 266.33,74.37 267.00,76.09 C267.67,77.81 268.33,79.53 269.00,81.24 C269.67,82.95 270.33,84.67 271.00,86.36 C271.67,88.05 272.33,89.74 273.00,91.40 C273.67,93.06 274.33,94.71 275.00,96.33 C275.67,97.95 276.33,99.55 277.00,101.12 C277.67,102.69 278.33,104.23 279.00,105.73 C279.67,107.23 280.33,108.70 281.00,110.14 C281.67,111.58 282.33,112.97 283.00,114.35 C283.67,115.72 284.33,117.08 285.00,118.39 C285.67,119.70 286.33,120.98 287.00,122.23 C287.67,123.48 288.33,124.71 289.00,125.91 C289.67,127.11 290.33,128.27 291.00,129.41 C291.67,130.55 292.33,131.66 293.00,132.75 C293.67,133.84 294.33,134.90 295.00,135.93 C295.67,136.96 296.33,137.96 297.00,138.95 C297.67,139.94 298.33,140.90 299.00,141.84 C299.67,142.78 300.33,143.69 301.00,144.58 C301.67,145.47 302.33,146.33 303.00,147.18 C303.67,148.03 304.33,148.85 305.00,149.66 C305.67,150.47 306.33,151.25 307.00,152.02 C307.67,152.79 308.33,153.53 309.00,154.26 C309.67,154.99 310.33,155.69 311.00,156.38 C311.67,157.07 312.33,157.75 313.00,158.41 C313.67,159.07 314.33,159.71 315.00,160.33 C315.67,160.96 316.33,161.56 317.00,162.16 C317.67,162.76 318.33,163.34 319.00,163.91 C319.67,164.48 320.33,165.03 321.00,165.57 C321.67,166.11 322.33,166.64 323.00,167.16 C323.67,167.68 324.33,168.18 325.00,168.67 C325.67,169.16 326.33,169.63 327.00,170.10 C327.67,170.56 328.33,171.02 329.00,171.46 C329.67,171.90 330.33,172.33 331.00,172.75 C331.67,173.17 332.33,173.58 333.00,173.98 C333.67,174.38 334.33,174.76 335.00,175.14 C335.67,175.51 336.33,175.88 337.00,176.23 C337.67,176.58 338.33,176.93 339.00,177.26 C339.67,177.59 340.33,177.92 341.00,178.23 C341.67,178.54 342.33,178.84 343.00,179.14 C343.67,179.44 344.33,179.72 345.00,180.00 C345.67,180.28 346.33,180.54 347.00,180.80 C347.67,181.06 348.33,181.31 349.00,181.55 C349.67,181.79 350.33,182.02 351.00,182.25 C351.67,182.48 352.33,182.70 353.00,182.91 C353.67,183.12 354.33,183.31 355.00,183.51 C355.67,183.70 356.33,183.90 357.00,184.08 C357.67,184.26 358.33,184.43 359.00,184.60 C359.67,184.77 360.33,184.93 361.00,185.08 C361.67,185.23 362.33,185.38 363.00,185.52 C363.67,185.66 364.33,185.80 365.00,185.93 C365.67,186.06 366.33,186.19 367.00,186.31 C367.67,186.43 368.33,186.54 369.00,186.65 C369.67,186.76 370.33,186.86 371.00,186.96 C371.67,187.06 372.33,187.16 373.00,187.25 C373.67,187.34 374.33,187.43 375.00,187.51 C375.67,187.59 376.33,187.67 377.00,187.74 C377.67,187.81 378.33,187.89 379.00,187.96 C379.67,188.03 380.33,188.09 381.00,188.15 C381.67,188.21 382.33,188.27 383.00,188.33 C383.67,188.39 384.33,188.44 385.00,188.49 C385.67,188.54 386.33,188.59 387.00,188.64 C387.67,188.69 388.33,188.74 389.00,188.78 C389.67,188.82 390.33,188.87 391.00,188.91 C391.67,188.95 392.33,188.98 393.00,189.02 C393.67,189.06 394.33,189.09 395.00,189.13 C395.67,189.16 396.33,189.20 397.00,189.23 C397.67,189.26 398.33,189.29 399.00,189.32 C399.67,189.35 400.33,189.38 401.00,189.40 C401.67,189.43 402.33,189.45 403.00,189.47 C403.67,189.49 404.33,189.51 405.00,189.53 C405.67,189.55 406.33,189.56 407.00,189.58 C407.67,189.60 408.33,189.61 409.00,189.62 C409.67,189.63 410.33,189.65 411.00,189.66 C411.67,189.67 412.33,189.68 413.00,189.69 C413.67,189.70 414.33,189.71 415.00,189.71 C415.67,189.72 416.33,189.72 417.00,189.72 C417.67,189.72 418.33,189.73 419.00,189.73 C419.67,189.73 420.33,189.73 421.00,189.73 C421.67,189.73 422.33,189.72 423.00,189.72 C423.67,189.72 424.33,189.71 425.00,189.70 C425.67,189.69 426.33,189.69 427.00,189.68 C427.67,189.67 428.33,189.66 429.00,189.65 C429.67,189.64 430.33,189.63 431.00,189.62 C431.67,189.61 432.33,189.60 433.00,189.58 C433.67,189.56 434.33,189.55 435.00,189.53 C435.67,189.51 436.33,189.50 437.00,189.48 C437.67,189.46 438.33,189.44 439.00,189.42 C439.67,189.40 440.33,189.38 441.00,189.36 C441.67,189.34 442.33,189.31 443.00,189.29 C443.67,189.27 444.33,189.24 445.00,189.22 C445.67,189.20 446.33,189.18 447.00,189.15 C447.67,189.12 448.33,189.10 449.00,189.07 C449.67,189.04 450.33,189.01 451.00,188.98 C451.67,188.95 452.33,188.92 453.00,188.89 C453.67,188.86 454.33,188.83 455.00,188.80 C455.67,188.77 456.33,188.74 457.00,188.71 C457.67,188.68 458.33,188.64 459.00,188.61 C459.67,188.58 460.33,188.54 461.00,188.51 C461.67,188.47 462.33,188.44 463.00,188.40 C463.67,188.37 464.33,188.34 465.00,188.30 C465.67,188.27 466.33,188.23 467.00,188.19 C467.67,188.15 468.33,188.12 469.00,188.08 C469.67,188.04 470.33,188.00 471.00,187.96 C471.67,187.92 472.33,187.89 473.00,187.85 C473.67,187.81 474.33,187.77 475.00,187.73 C475.67,187.69 476.55,187.64 477.00,187.61 C477.45,187.58 477.58,187.58 477.70,187.57" fill="none" stroke="#ff0000" stroke-width="4.0" stroke-dasharray="13.8 15.74" stroke-dashoffset="13.69"/>
<path d="M46.90,185.30 C46.90,184.02 46.68,178.90 46.90,177.60 C47.12,176.30 47.85,177.02 48.20,177.50 C48.55,177.98 48.53,179.88 49.00,180.50 C49.47,181.12 49.67,181.08 51.00,181.20 C52.33,181.32 55.17,181.20 57.00,181.20 C58.83,181.20 60.42,181.15 62.00,181.20 C63.58,181.25 65.75,181.45 66.50,181.50" fill="none" stroke="#ff0000" stroke-width="4.0" stroke-linejoin="round"/>
<rect x="46.4" y="178.6" width="1.6" height="2.8" fill="#d95319" opacity="0.8"/>
<text x="45.42" y="265.5" text-anchor="middle" class="t">0</text>
<text x="116.18" y="265.5" text-anchor="middle" class="t">5</text>
<text x="186.94" y="265.5" text-anchor="middle" class="t">10</text>
<text x="257.69" y="265.5" text-anchor="middle" class="t">15</text>
<text x="328.45" y="265.5" text-anchor="middle" class="t">20</text>
<text x="399.20" y="265.5" text-anchor="middle" class="t">25</text>
<text x="469.96" y="265.5" text-anchor="middle" class="t">30</text>
<text x="540.71" y="265.5" text-anchor="middle" class="t">35</text>
<text x="40.5" y="251.90" text-anchor="end" class="t">-<tspan dx="2">5</tspan></text>
<text x="40.5" y="192.85" text-anchor="end" class="t">0</text>
<text x="40.5" y="133.80" text-anchor="end" class="t">5</text>
<text x="40.5" y="74.75" text-anchor="end" class="t">10</text>
<text x="40.5" y="15.70" text-anchor="end" class="t">15</text>
<text x="299.5" y="285.6" text-anchor="middle" class="l">Time (s)</text>
<text transform="translate(13.8,127.6) rotate(-90)" text-anchor="middle" class="l" style="font-size:15px">Yaw rate (deg/s)</text>
<rect x="339.3" y="24.5" width="189.90000000000003" height="66.5" fill="#fff" stroke="#1a1a1a" stroke-width="1.3"/>
<path d="M346,33.40H366" stroke="#0072bd" stroke-width="1.5" stroke-dasharray="none"/>
<text x="371.5" y="38.20" class="g">Open loop control</text>
<path d="M347,49.75H361.7" stroke="#5fd21c" stroke-width="3.5" stroke-dasharray="none"/>
<text x="371.5" y="54.55" class="g">MPC control with RLS</text>
<path d="M347,66.10H365.5" stroke="#d95319" stroke-width="3.5" stroke-dasharray="3.3 4.05"/>
<text x="371.5" y="70.90" class="g">MPC control with VFF-RLS</text>
<path d="M346.7,82.45H361.8" stroke="#ff0000" stroke-width="4.0" stroke-dasharray="none"/>
<text x="371.5" y="87.25" class="g">Reference trajectory</text>
</svg>
</body></html>
